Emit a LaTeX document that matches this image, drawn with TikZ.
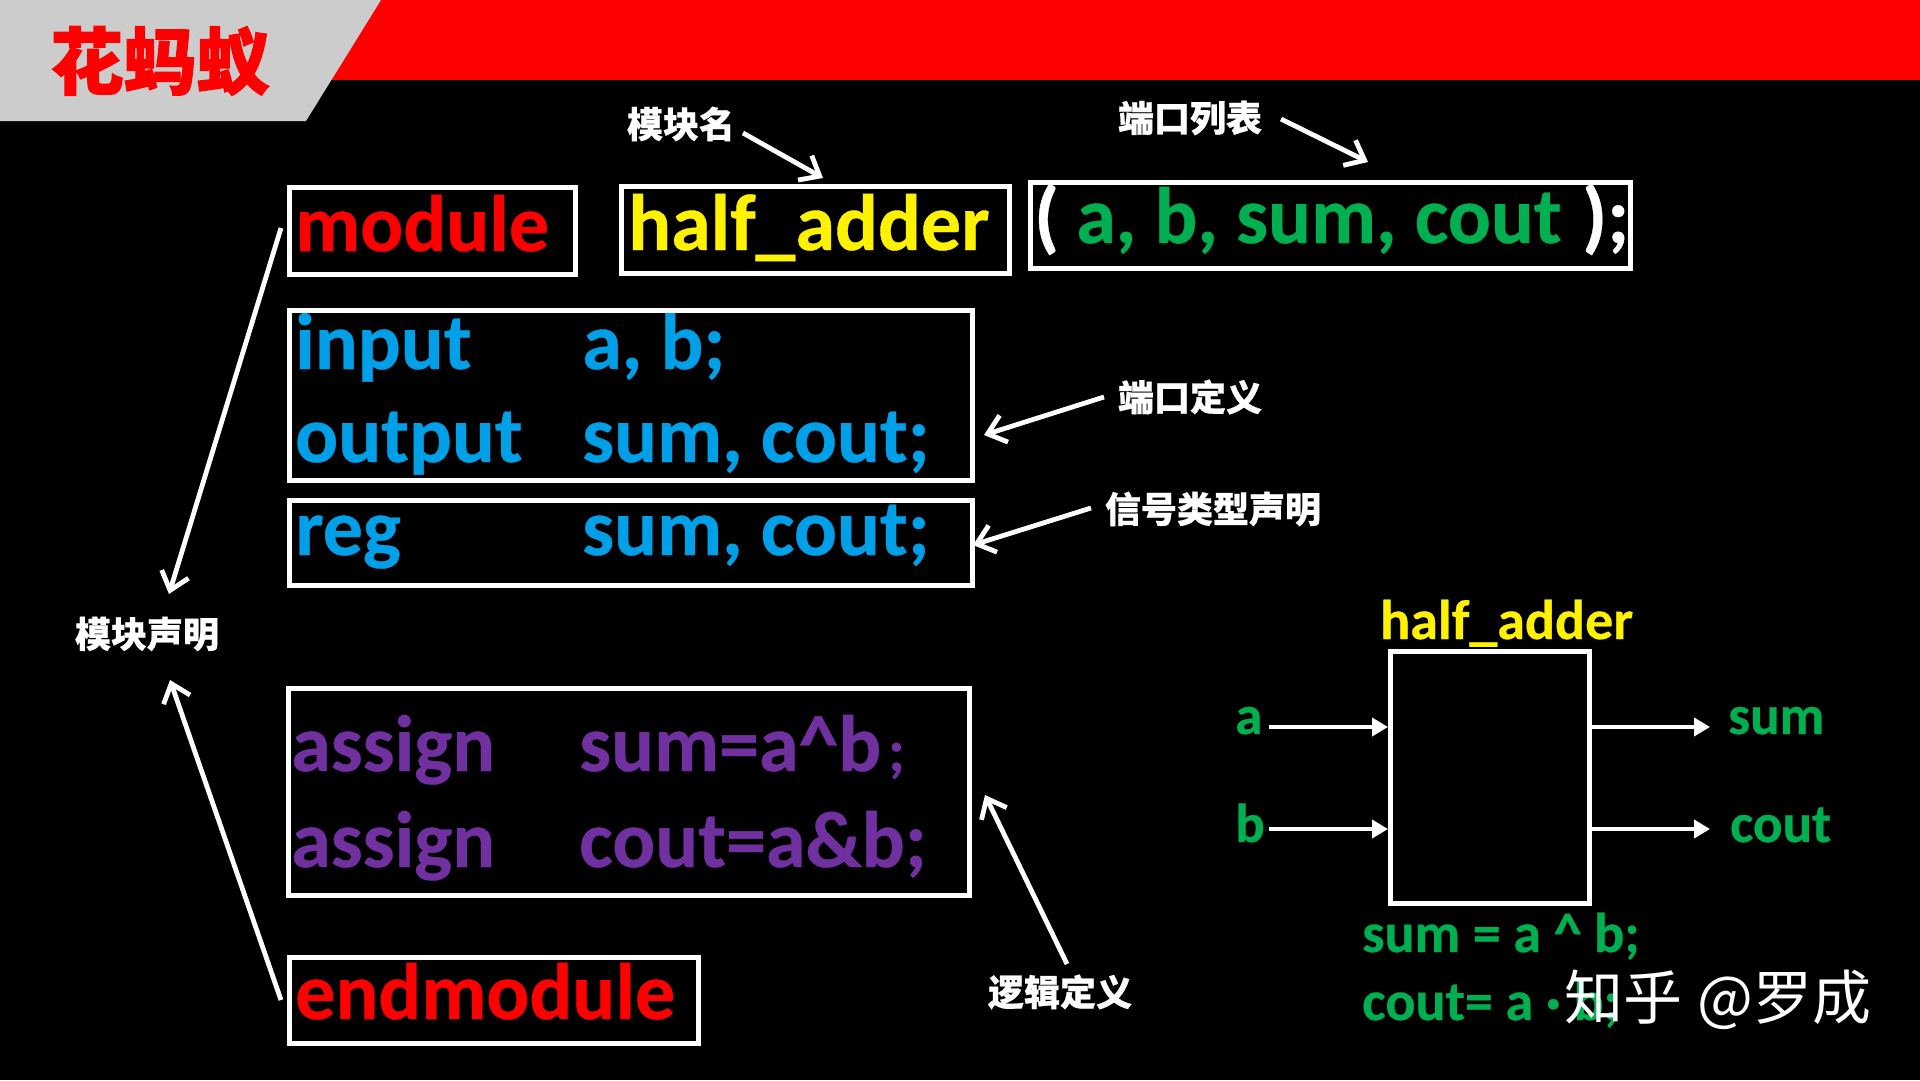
\documentclass[tikz,border=0pt]{standalone}
\usepackage{fontspec}
\setmainfont{Carlito}[BoldFeatures={FakeBold=0.5}]
\newfontfamily\cjkfont{Noto Sans CJK SC}[BoldFeatures={FakeBold=0.6}]
\newfontfamily\titlefont{Noto Sans CJK SC}[BoldFeatures={FakeBold=1.5}]
\usetikzlibrary{arrows.meta}
\definecolor{cgreen}{HTML}{00B050}
\definecolor{cblue}{HTML}{00A0E9}
\definecolor{cpurple}{HTML}{7030A0}
\definecolor{cgray}{HTML}{CCCCCC}
\tikzset{
  codetext/.style={anchor=base west,inner sep=0pt,font=\fontsize{#1}{#1}\selectfont\bfseries},
  outline/.style={draw=white,line width=5pt,inner sep=0pt,fill=none},
  cnlabel/.style={anchor=center,inner sep=0pt,text=white,font=\fontsize{36}{36}\selectfont\cjkfont\bfseries},
  notearrow/.style={draw=white,line width=4.8pt,-{Straight Barb[length=17pt,width=28pt,line width=4.8pt]}},
  portarrow/.style={draw=white,line width=4.8pt,-{Triangle[length=16pt,width=18pt]}},
}
\begin{document}
\begin{tikzpicture}[x=1pt,y=-1pt]
\useasboundingbox (0,0) rectangle (1920,1080);
\fill[black] (0,0) rectangle (1920,1080);
\fill[red] (300,0) rectangle (1920,80);
\fill[cgray] (0,0) -- (381,0) -- (306,121) -- (0,121) -- cycle;
\node[anchor=center,inner sep=0pt,text=red,font=\fontsize{73}{73}\selectfont\titlefont\bfseries] (title) at (160,61) {花蚂蚁};
% code
\node[codetext=80,text=red] (tmodule) at (295,251) {module};
\node[codetext=80,text=yellow] (thalf) at (628,250) {half\_adder};
\node[codetext=80,text=white] (tlp) at (1034,243) {(};
\node[codetext=80,text=cgreen] (tports) at (1076,243) {a, b, sum, cout};
\node[codetext=80,text=white] (trp) at (1582,243) {);};
\node[codetext=80,text=cblue] (tinput) at (295,369) {input};
\node[codetext=80,text=cblue] (tinputv) at (582,369) {a, b;};
\node[codetext=80,text=cblue] (toutput) at (295,462) {output};
\node[codetext=80,text=cblue] (toutputv) at (582,462) {sum, cout;};
\node[codetext=80,text=cblue] (treg) at (295,555) {reg};
\node[codetext=80,text=cblue] (tregv) at (582,555) {sum, cout;};
\node[codetext=80,text=cpurple] (tas1) at (291,771) {assign};
\node[codetext=80,text=cpurple] (tas1v) at (579,771) {sum=a\char`\^b};
\node[codetext=60,text=cpurple] (tas1s) at (888,771) {;};
\node[codetext=80,text=cpurple] (tas2) at (291,867) {assign};
\node[codetext=80,text=cpurple] (tas2v) at (579,867) {cout=a\&b;};
\node[codetext=80,text=red] (tend) at (295,1019) {endmodule};
% block text
\node[codetext=56,text=yellow] (thalf2) at (1380,639) {half\_adder};
\node[codetext=55,text=cgreen] (ta) at (1235,734) {a};
\node[codetext=55,text=cgreen] (tb) at (1235,842) {b};
\node[codetext=55,text=cgreen] (tsum) at (1728,734) {sum};
\node[codetext=55,text=cgreen] (tcout) at (1730,842) {cout};
\node[codetext=56,text=cgreen] (eq1) at (1362,952) {sum = a \char`\^{} b;};
\node[codetext=56,text=cgreen] (eq2) at (1362,1020) {cout= a · b;};
% boxes
\node[outline,minimum width=286pt,minimum height=87pt] (bmodule) at (432.5,231) {};
\node[outline,minimum width=388pt,minimum height=87pt] (bhalf) at (815.5,229.5) {};
\node[outline,minimum width=600pt,minimum height=86.5pt] (bports) at (1330.5,225.5) {};
\node[outline,minimum width=683pt,minimum height=170pt] (bio) at (631,395) {};
\node[outline,minimum width=683pt,minimum height=85pt] (breg) at (631,542.5) {};
\node[outline,minimum width=681pt,minimum height=207pt] (bassign) at (628.5,792) {};
\node[outline,minimum width=409pt,minimum height=86pt] (bend) at (494,1000) {};
\node[outline,minimum width=199pt,minimum height=252pt] (block) at (1490,777.5) {};
% labels
\node[cnlabel] (lname) at (681,124) {模块名};
\node[cnlabel] (lports) at (1190,118) {端口列表};
\node[cnlabel] (ldef) at (1190,397) {端口定义};
\node[cnlabel] (ltype) at (1213,509) {信号类型声明};
\node[cnlabel] (ldecl) at (147,634) {模块声明};
\node[cnlabel] (llogic) at (1060,992) {逻辑定义};
% connector ends
\coordinate (s1) at (743,133); \coordinate (e1) at (823,178);
\coordinate (s2) at (1281,119); \coordinate (e2) at (1368,162);
\coordinate (s3) at (1104,397); \coordinate (e3) at (984,435);
\coordinate (s4) at (1091,508); \coordinate (e4) at (973,545);
\coordinate (s5) at (281,228); \coordinate (e5) at (169,594);
\coordinate (s6) at (281,1000); \coordinate (e6) at (170,680);
\coordinate (s7) at (1067,964); \coordinate (e7) at (985,795);
\draw[notearrow] (s1) -- (e1);
\draw[notearrow] (s2) -- (e2);
\draw[notearrow] (s3) -- (e3);
\draw[notearrow] (s4) -- (e4);
\draw[notearrow] (s5) -- (e5);
\draw[notearrow] (s6) -- (e6);
\draw[notearrow] (s7) -- (e7);
% ports
\coordinate (pa) at (1269,727); \coordinate (pb) at (1269,829);
\coordinate (psum) at (1710,727); \coordinate (pcout) at (1710,829);
\draw[portarrow] (pa) -- (pa -| block.west);
\draw[portarrow] (pb) -- (pb -| block.west);
\draw[portarrow] (psum -| block.east) -- (psum);
\draw[portarrow] (pcout -| block.east) -- (pcout);
% watermark
\node[anchor=center,inner sep=0pt,text=white,font=\fontsize{59}{59}\selectfont\cjkfont] (wm) at (1718,1000) {知乎\hspace{2pt} @罗成};
\end{tikzpicture}
\end{document}
